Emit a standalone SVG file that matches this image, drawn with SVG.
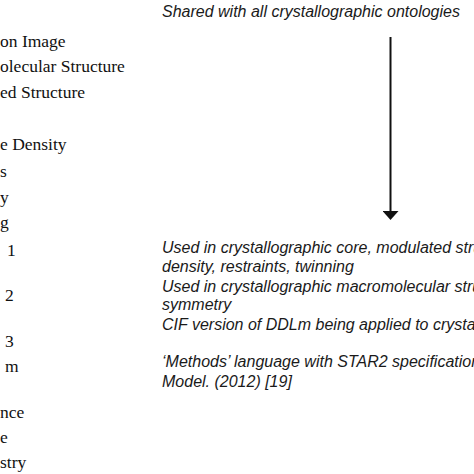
<svg xmlns="http://www.w3.org/2000/svg" width="474" height="474" viewBox="0 0 474 474">
<defs>
<style>
.l{font-family:"Liberation Serif","Times New Roman",serif;font-size:17.5px;fill:#111}
.r{font-family:"Liberation Sans",Arial,sans-serif;font-size:16px;font-style:italic;fill:#1a1a1a}
</style>
<marker id="ah" viewBox="0 0 9 16" refX="0" refY="8" markerWidth="9" markerHeight="16" markerUnits="userSpaceOnUse" orient="auto">
<path d="M0,0 L9,8 L0,16 Z" fill="#111"/>
</marker>
</defs>
<rect width="474" height="474" fill="#fff"/>
<g id="left-labels">
<text class="l" x="0" y="47">on Image</text>
<text class="l" x="0" y="72">olecular Structure</text>
<text class="l" x="0" y="98">ed Structure</text>
<text class="l" x="0" y="150">e Density</text>
<text class="l" x="0" y="177">s</text>
<text class="l" x="0" y="203">y</text>
<text class="l" x="0" y="228">g</text>
<text class="l" x="7" y="256">1</text>
<text class="l" x="5" y="301">2</text>
<text class="l" x="5" y="347">3</text>
<text class="l" x="5" y="372">m</text>
<text class="l" x="0" y="418">nce</text>
<text class="l" x="0" y="443">e</text>
<text class="l" x="0" y="468">stry</text>
</g>
<g id="shared">
<text class="r" x="162" y="17">Shared with all crystallographic ontologies</text>
</g>
<g id="connectors">
<line x1="390.5" y1="37" x2="390.5" y2="211" stroke="#111" stroke-width="2" marker-end="url(#ah)"/>
</g>
<g id="right-labels">
<text class="r" x="162" y="253">Used in crystallographic core, modulated stru</text>
<text class="r" x="162" y="272">density, restraints, twinning</text>
<text class="r" x="162" y="292">Used in crystallographic macromolecular stru</text>
<text class="r" x="162" y="310">symmetry</text>
<text class="r" x="162" y="330">CIF version of DDLm being applied to crystal</text>
<text class="r" x="162" y="367">‘Methods’ language with STAR2 specification</text>
<text class="r" x="162" y="387">Model. (2012) [19]</text>
</g>
</svg>
